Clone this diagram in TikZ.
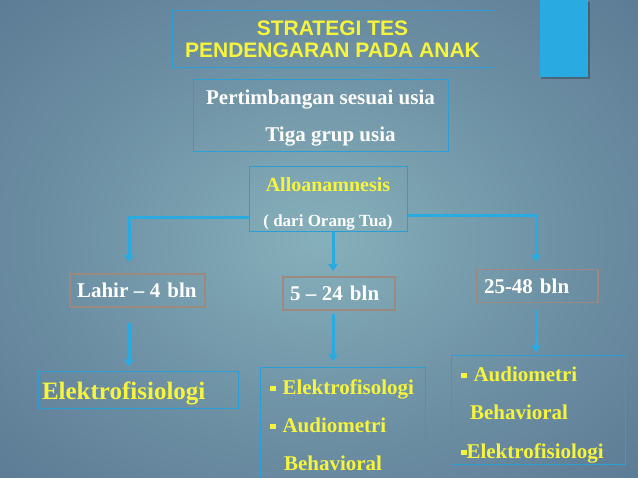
\documentclass[tikz,border=0pt]{standalone}
\usepackage{fontspec}
\setmainfont{Liberation Serif}
\newfontfamily\titlefont{Liberation Sans}
\usetikzlibrary{arrows.meta}
\definecolor{bgin}{HTML}{86B0BB}
\definecolor{bgout}{HTML}{4E6887}
\definecolor{bgdark}{HTML}{475D7E}
\definecolor{lineblue}{HTML}{29ABE2}
\definecolor{boxblue}{HTML}{2C9ED4}
\definecolor{boxtan}{HTML}{9C8A80}
\definecolor{txtyellow}{HTML}{F6F43C}
\pgfdeclareradialshading{slidebg}{\pgfpoint{0bp}{0bp}}{color(0bp)=(bgin); color(20bp)=(bgin!55!bgout); color(50bp)=(bgout); color(72bp)=(bgdark)}
\newcommand{\sqbullet}{\raisebox{3pt}{\rule{5.5pt}{5.5pt}}}
\newcommand{\agedash}{\hspace{5.5pt}–\hspace{5.5pt}}
\tikzset{
    bluebox/.style={
           draw=boxblue, line width=1pt,
           inner sep=0pt
           },
    tanbox/.style={
           draw=boxtan, line width=1.5pt,
           text=white,
           font=\bfseries\fontsize{21}{24}\selectfont,
           align=left,
           inner xsep=7pt, inner ysep=0pt,
           minimum height=33pt
           },
    flow/.style={->, draw=lineblue, line width=3pt},
}

\begin{document}
\begin{tikzpicture}[x=1pt,y=-1pt,>={Triangle[length=7pt,width=9pt]}]
    \clip (0,0) rectangle (638,478);
    \shade[shading=slidebg] (0,0) rectangle (638,478);
    % corner tab
    \fill[black,opacity=0.25] (541,2) rectangle (590,79);
    \fill[lineblue] (540,0) rectangle (588,77);

    \node[bluebox,
          minimum width=321pt, minimum height=57pt,
          align=center, text=txtyellow,
          font=\titlefont\bfseries\fontsize{21}{22}\selectfont
          ] (title) at (332.5,39.5)
          {STRATEGI TES\\PENDENGARAN PADA ANAK};

    \node[bluebox,
          minimum width=255pt, minimum height=72pt,
          align=center, text=white,
          font=\bfseries\fontsize{21}{37}\selectfont
          ] (criteria) at (320.5,116)
          {\rule{0pt}{19.5pt}Pertimbangan sesuai usia\\\hspace*{20pt}Tiga grup usia};

    \node[bluebox,
          minimum width=158pt, minimum height=65pt,
          align=center,
          font=\bfseries\fontsize{20}{35}\selectfont
          ] (allo) at (328,199.5)
          {\rule{0pt}{23pt}\textcolor{txtyellow}{Alloanamnesis}\\
           {\color{white}\fontsize{17}{35}\selectfont ( dari Orang Tua)}};

    % age groups
    \node[tanbox, text width=121pt] (lahir) at (137.5,290.5) {\mbox{Lahir\agedash 4 bln}};
    \node[tanbox, text width=98pt] (mid) at (339,293.5) {\mbox{5\agedash 24 bln}};
    \node[tanbox, text width=107pt] (late) at (537.5,286) {\mbox{25-48 bln}};

    % tests
    \node[bluebox,
          minimum width=200pt, minimum height=37pt,
          text width=192pt, align=left, inner xsep=4pt,
          text=txtyellow,
          font=\bfseries\fontsize{25}{28}\selectfont
          ] (test1) at (138,390.5) {\rule{0pt}{24pt}Elektrofisiologi};
    \node[bluebox,
          minimum width=165pt, minimum height=114pt,
          text width=145pt, align=left, inner xsep=10pt,
          text=txtyellow,
          font=\bfseries\fontsize{21}{38}\selectfont
          ] (test2) at (342.5,425)
          {\sqbullet\ Elektrofisologi\\\sqbullet\ Audiometri\\\hspace*{14pt}Behavioral};
    \node[bluebox,
          minimum width=174pt, minimum height=109pt,
          text width=154pt, align=left, inner xsep=10pt,
          text=txtyellow,
          font=\bfseries\fontsize{21}{38.5}\selectfont
          ] (test3) at (538,410.5)
          {\rule{0pt}{23pt}\sqbullet\ Audiometri\\\hspace*{9pt}Behavioral\\\sqbullet Elektrofisiologi};

    \draw[flow] ([yshift=-18.5pt]allo.west) -| ([xshift=-8.5pt,yshift=11pt]lahir.north);
    \draw[flow] ([xshift=5pt]allo.south) -- ([xshift=-6pt,yshift=5pt]mid.north);
    \draw[flow] ([yshift=-16.5pt]allo.east) -| ([xshift=-1.5pt,yshift=7pt]late.north);

    \draw[flow] ([xshift=-8.5pt,yshift=-15pt]lahir.south) -- ([xshift=-9pt,yshift=5pt]test1.north);
    \draw[flow] ([xshift=-6pt,yshift=-3pt]mid.south) -- ([xshift=-9.5pt,yshift=6pt]test2.north);
    \draw[flow] ([xshift=-1.5pt,yshift=-7pt]late.south) -- ([xshift=-2pt,yshift=3pt]test3.north);
\end{tikzpicture}
\end{document}
